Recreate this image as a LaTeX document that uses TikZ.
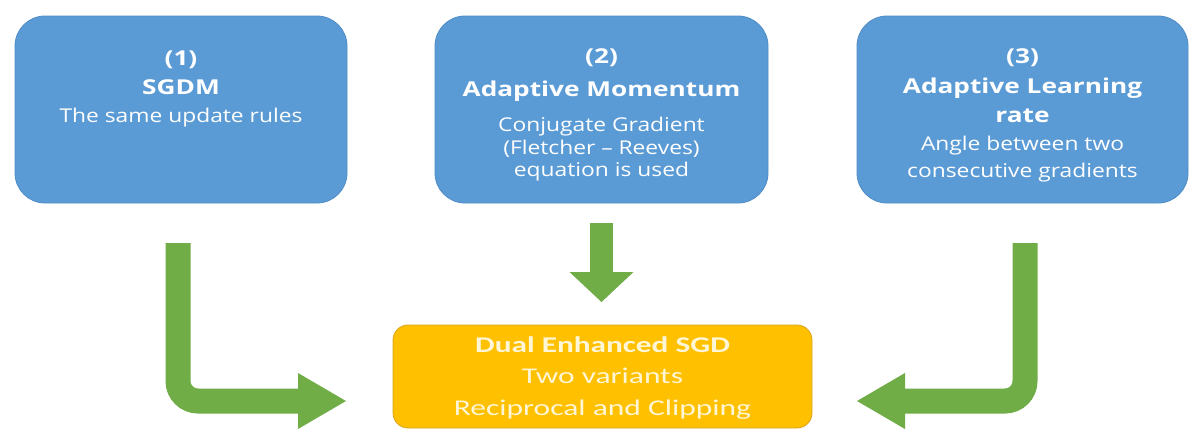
\documentclass[tikz,border=0pt]{standalone}
\usepackage{fontspec}
\setmainfont{Open Sans}
\newfontfamily\ttlfont[FakeStretch=1.28]{Open Sans}
\newfontfamily\bdyfont[FakeStretch=1.2]{Open Sans}
\newfontfamily\ottlfont[FakeStretch=1.39]{Carlito}
\newfontfamily\obdyfont[FakeStretch=1.40]{Carlito}
\usetikzlibrary{arrows.meta}
\definecolor{boxblue}{HTML}{5B9BD5}
\definecolor{boxblueedge}{HTML}{4F8CC6}
\definecolor{boxorange}{HTML}{FFC000}
\definecolor{boxorangeedge}{HTML}{D9A520}
\definecolor{arrgreen}{HTML}{70AD47}
\definecolor{paletext}{HTML}{FFF6D5}
\tikzset{
  bluebox/.style={draw=boxblueedge, line width=0.8pt, fill=boxblue, rounded corners=30pt, inner sep=0pt},
  orangebox/.style={draw=boxorangeedge, line width=0.8pt, fill=boxorange, rounded corners=15pt, inner sep=0pt},
  line/.style={text=white, inner sep=0pt, anchor=base},
  ttl/.style={line, font=\ttlfont\fontsize{20.5}{24}\selectfont\bfseries},
  bdy/.style={line, font=\bdyfont\fontsize{19}{23}\selectfont},
  ottl/.style={line, text=paletext, font=\ottlfont\fontsize{22.5}{26}\selectfont\bfseries},
  obdy/.style={line, text=paletext, font=\obdyfont\fontsize{22.5}{26}\selectfont},
  blockarrow/.style={draw=arrgreen, line width=25pt, rounded corners=20pt,
     -{Triangle[length=48pt,width=56pt,line width=0pt]}},
  shortarrow/.style={draw=arrgreen, line width=23pt,
     -{Triangle[length=30pt,width=64pt,line width=0pt]}},
}
\begin{document}
\begin{tikzpicture}[x=1pt,y=-1pt]
\useasboundingbox[fill=white] (0,0) rectangle (1200,440);
% boxes
\node[bluebox, minimum width=332pt, minimum height=187pt] (b1) at (181,109.5) {};
\node[bluebox, minimum width=333pt, minimum height=187pt] (b2) at (601.5,109.5) {};
\node[bluebox, minimum width=331pt, minimum height=187pt] (b3) at (1022.5,109.5) {};
\node[orangebox, minimum width=419pt, minimum height=103pt] (o) at (602.5,376.5) {};
% box 1 text
\node[ttl] (t1a) at (181,65) {(1)};
\node[ttl] (t1b) at (181,94) {SGDM};
\node[bdy] (t1c) at (181,122) {The same update rules};
% box 2 text
\node[ttl] (t2a) at (601.5,63) {(2)};
\node[ttl] (t2b) at (601.5,96) {Adaptive Momentum};
\node[bdy] (t2c) at (601.5,131) {Conjugate Gradient};
\node[bdy] (t2d) at (601.5,154) {(Fletcher – Reeves)};
\node[bdy] (t2e) at (601.5,176) {equation is used};
% box 3 text
\node[ttl] (t3a) at (1022.5,63) {(3)};
\node[ttl] (t3b) at (1022.5,93) {Adaptive Learning};
\node[ttl] (t3c) at (1022.5,122) {rate};
\node[bdy] (t3d) at (1022.5,150) {Angle between two};
\node[bdy] (t3e) at (1022.5,177) {consecutive gradients};
% orange text
\node[ottl] (toa) at (602.5,352) {Dual Enhanced SGD};
\node[obdy] (tob) at (602.5,383) {Two variants};
\node[obdy] (toc) at (602.5,415) {Reciprocal and Clipping};
% arrow end points
\coordinate (s1) at (178,243);
\coordinate (e1) at (346,401);
\coordinate (s2) at (601.5,223);
\coordinate (e2) at (601.5,302);
\coordinate (s3) at (1025,243);
\coordinate (e3) at (857,401);
\draw[blockarrow] (s1) |- (e1);
\draw[shortarrow] (s2) -- (e2);
\draw[blockarrow] (s3) |- (e3);
\end{tikzpicture}
\end{document}
